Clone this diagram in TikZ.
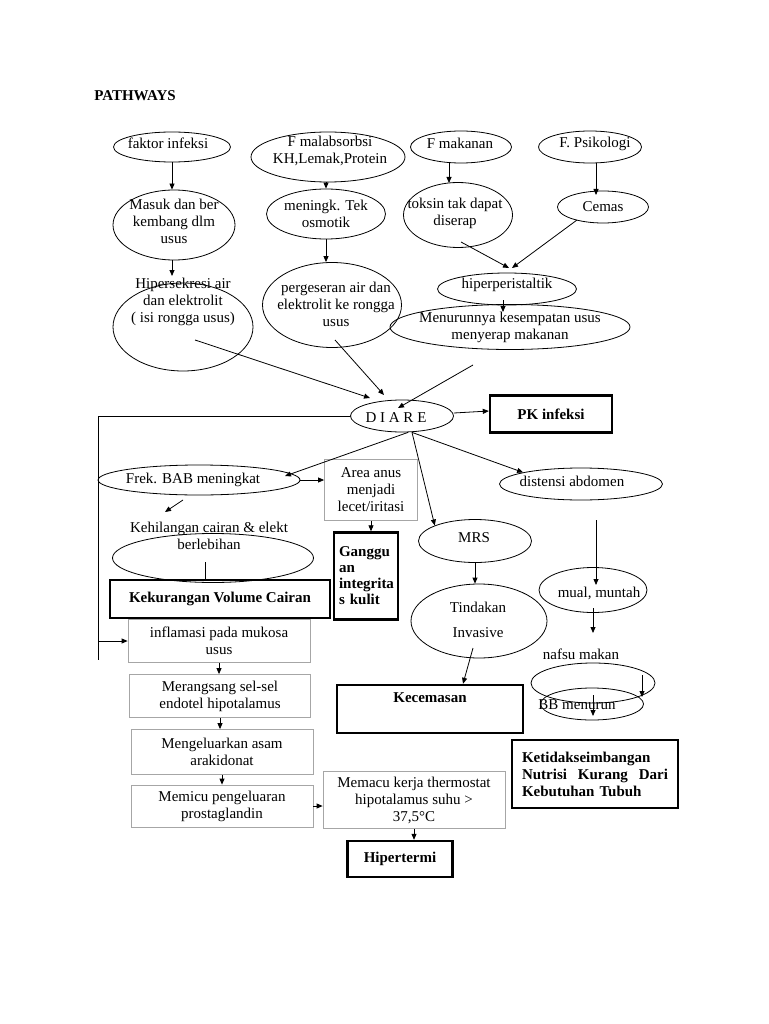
\documentclass[tikz,border=0pt]{standalone}
\usepackage{fontspec}
\setmainfont{Liberation Serif}
\usepackage{tikz}
\usetikzlibrary{shapes,positioning,arrows.meta}
\newcommand{\pwfont}{\fontsize{15}{17}\selectfont}

\begin{document}
\begin{tikzpicture}[x=1pt,y=-1pt,line width=0.8pt,font=\pwfont,
  oval/.style={draw, ellipse, inner sep=0pt},
  txt/.style={align=center, inner sep=0pt},
  gbox/.style={draw=black!35, rectangle, align=center, inner sep=2pt},
  kbox/.style={draw, rectangle, line width=2.4pt, font=\pwfont\bfseries, align=center},
  arr/.style={-{Triangle[length=6pt,width=5pt]}}]
\useasboundingbox (0,0) rectangle (768,1024);

\node[font=\pwfont\bfseries] (title) at (135,96) {PATHWAYS};

\node[oval, minimum width=117pt, minimum height=30pt, label={[txt,shift={(-4,-4)}]center:faktor infeksi}] (fi) at (172,147) {};
\node[oval, minimum width=154pt, minimum height=50pt, label={[txt,shift={(2,-6)}]center:F malabsorbsi\\KH{,}Lemak{,}Protein}] (malab) at (328,157) {};
\node[oval, minimum width=101pt, minimum height=32pt, label={[txt,shift={(-1,-4)}]center:F makanan}] (makan) at (461,147) {};
\node[oval, minimum width=103pt, minimum height=32pt, label={[txt,shift={(5,-3)}]center:F. Psikologi}] (psiko) at (590,147) {};

\node[oval, minimum width=122pt, minimum height=70pt, label={[txt,shift={(0,-4)}]center:Masuk dan ber\\kembang dlm\\usus}] (masuk) at (174,225) {};
\node[oval, minimum width=119pt, minimum height=50pt, label={[txt]center:meningk. Tek\\osmotik}] (tek) at (326,214) {};
\node[oval, minimum width=109pt, minimum height=65pt, label={[txt,shift={(-3,-2)}]center:toksin tak dapat\\diserap}] (toksin) at (458,215) {};
\node[oval, minimum width=91pt, minimum height=32pt, label={[txt]center:Cemas}] (cemas) at (603,207) {};

\node[oval, minimum width=140pt, minimum height=88pt, label={[txt,shift={(0,-25)}]center:Hipersekresi air\\dan elektrolit\\( isi rongga usus)}] (hiper) at (183,327) {};
\node[oval, minimum width=139pt, minimum height=85pt, label={[txt,shift={(4,-1)}]center:pergeseran air dan\\elektrolit ke rongga\\usus}] (geser) at (332,305) {};
\node[oval, minimum width=139pt, minimum height=32pt, label={[txt,shift={(0,-4)}]center:hiperperistaltik}] (hps) at (507,289) {};
\node[oval, minimum width=240pt, minimum height=45pt, label={[txt]center:Menurunnya kesempatan usus\\menyerap makanan}] (turun) at (510,327) {};

\node[oval, minimum width=103pt, minimum height=32pt, label={[txt,shift={(-6,2)}]center:D I A R E}] (diare) at (402,416) {};
\node[kbox, minimum width=122pt, minimum height=37pt] (pk) at (551,414) {PK infeksi};

\node[oval, minimum width=202pt, minimum height=30pt, label={[txt,shift={(-6,0)}]center:Frek. BAB meningkat}] (frek) at (199,480) {};
\node[gbox, minimum width=93pt, minimum height=61pt] (anus) at (371,490) {Area anus\\menjadi\\lecet/iritasi};
\node[oval, minimum width=201pt, minimum height=49pt, label={[txt,shift={(-4,-22)}]center:Kehilangan cairan \& elekt\\berlebihan}] (hilang) at (213,558) {};
\node[kbox, minimum width=220pt, minimum height=38pt] (kurang) at (220,599) {Kekurangan Volume Cairan};
\node[kbox, minimum width=64pt, minimum height=87pt, text width=54pt, align=left, font=\fontsize{15}{16}\selectfont\bfseries] (ganggu) at (366,576) {Ganggu\\an\\integrita\\s kulit};

\node[oval, minimum width=113pt, minimum height=43pt, label={[txt,shift={(-1,-3)}]center:MRS}] (mrs) at (475,541) {};
\node[oval, minimum width=163pt, minimum height=32pt, label={[txt,shift={(-9,-3)}]center:distensi abdomen}] (dist) at (581,484) {};
\node[oval, minimum width=136pt, minimum height=74pt, label={[txt,shift={(-1,-1)}]center:Tindakan\\[8pt]Invasive}] (tind) at (479,621) {};
\node[oval, minimum width=108pt, minimum height=45pt, label={[txt,shift={(6,3)}]center:mual{,} muntah}] (mual) at (593,590) {};
\node[oval, minimum width=124pt, minimum height=40pt, label={[txt,shift={(-12,-29)}]center:nafsu makan}] (nafsu) at (593,683) {};
\node[oval, minimum width=103pt, minimum height=32pt, label={[txt,shift={(-15,1)}]center:BB menurun}] (bb) at (592,704) {};

\node[kbox, minimum width=186pt, minimum height=48pt] (kcm) at (430,709) {};
\node[font=\pwfont\bfseries, below=5pt of kcm.north] (kcmtxt) {Kecemasan};
\node[kbox, minimum width=166pt, minimum height=68pt, text width=146pt, align=left] (ket) at (595,774) {Ketidakseimbangan\\Nutrisi\hfill Kurang\hfill Dari\\Kebutuhan Tubuh};

\node[gbox, minimum width=182pt, minimum height=43pt] (radang) at (219,641) {inflamasi pada mukosa\\usus};
\node[gbox, minimum width=181pt, minimum height=43pt] (rangsang) at (220,696) {Merangsang sel-sel\\endotel hipotalamus};
\node[gbox, minimum width=182pt, minimum height=45pt] (asam) at (222,752) {Mengeluarkan asam\\arakidonat};
\node[gbox, minimum width=182pt, minimum height=42pt] (picu) at (222,806) {Memicu pengeluaran\\prostaglandin};
\node[gbox, minimum width=182pt, minimum height=57pt] (pacu) at (414,800) {Memacu kerja thermostat\\hipotalamus suhu >\\37,5°C};
\node[kbox, minimum width=105pt, minimum height=36pt] (hipt) at (400,859) {Hipertermi};

\coordinate (lbot) at (98,660);
\coordinate (dbebas) at (473,365);

\draw[arr] (fi.south) -- (fi.south |- masuk.north);
\draw[arr] ([shift={(-2,0)}]masuk.south) -- ([shift={(-11,-51)}]hiper.center);
\draw[arr] (tek.north |- malab.south) -- (tek.north);
\draw[arr] (tek.south) -- (tek.south |- geser.north);
\draw[arr] ([shift={(-12,16)}]makan.center) -- ([shift={(-9,-32)}]toksin.center);
\draw[arr] ([shift={(6,16)}]psiko.center) -- ([shift={(-7,-12)}]cemas.center);
\draw[arr] ([shift={(3,27)}]toksin.center) -- ([shift={(2,-21)}]hps.center);
\draw[arr] ([shift={(-26,13)}]cemas.center) -- ([shift={(5,-21)}]hps.center);
\draw[arr] ([shift={(-4,11)}]hps.center) -- ([shift={(-7,-15)}]turun.center);
\draw[arr] ([shift={(12,13)}]hiper.center) -- ([shift={(-32,-18)}]diare.center);
\draw[arr] ([shift={(3,35)}]geser.center) -- ([shift={(-18,-21)}]diare.center);
\draw[arr] (dbebas) -- ([shift={(-4,-8)}]diare.center);
\draw[arr] ([shift={(0,-3)}]diare.east) -- ([shift={(0,-3)}]pk.west);
\draw (diare.west) -| (lbot);
\draw[arr] (radang.west -| lbot) -- (radang.west);
\draw[arr] ([shift={(6,0)}]diare.south) -- ([shift={(86,-4)}]frek.center);
\draw[arr] (frek.east) -- (frek.east -| anus.west);
\draw[arr] ([shift={(-16,20)}]frek.center) -- ([shift={(-48,-46)}]hilang.center);
\draw ([shift={(-15,0)}]kurang.north) -- ([shift={(-8,4)}]hilang.center);
\draw[arr] (anus.south) -- (anus.south |- ganggu.north);
\draw[arr] ([shift={(10,0)}]diare.south) -- (mrs.north west);
\draw[arr] ([shift={(10,0)}]diare.south) -- (dist.north west);
\draw[arr] (mrs.south) -- (mrs.south |- tind.north);
\draw[arr] ([shift={(-6,27)}]tind.center) -- ([shift={(33,0)}]kcm.north);
\draw[arr] ([shift={(15,36)}]dist.center) -- ([shift={(3,-5)}]mual.center);
\draw[arr] ([shift={(0,18)}]mual.center) -- ([shift={(0,-50)}]nafsu.center);
\draw[arr] ([shift={(49,-8)}]nafsu.center) -- ([shift={(50,-7)}]bb.center);
\draw[arr] ([shift={(0,12)}]nafsu.center) -- ([shift={(1,12)}]bb.center);
\draw[arr] (radang.south) -- (radang.south |- rangsang.north);
\draw[arr] (rangsang.south) -- (rangsang.south |- asam.north);
\draw[arr] (asam.south) -- (asam.south |- picu.north);
\draw[arr] (picu.east) -- (picu.east -| pacu.west);
\draw[arr] (pacu.south) -- (pacu.south |- hipt.north);
\end{tikzpicture}
\end{document}
